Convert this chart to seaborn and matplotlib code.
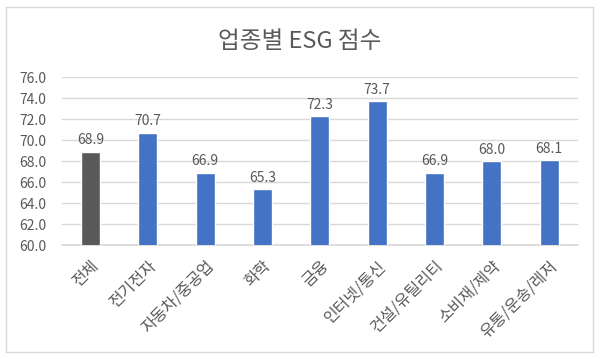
import matplotlib
matplotlib.use("Agg")
import matplotlib.pyplot as plt
import seaborn as sns
import pandas as pd
from matplotlib.patches import Rectangle

categories = ["전체", "전기전자", "자동차/중공업", "화학", "금융", "인터넷/통신", "건설/유틸리티", "소비재/제약", "유통/운송/레저"]
scores = [68.9, 70.7, 66.9, 65.3, 72.3, 73.7, 66.9, 68.0, 68.1]
yticks = [60, 62, 64, 66, 68, 70, 72, 74, 76]
title = "업종별 ESG 점수"

sns.set_theme(style="white")
plt.rcParams['font.family'] = ['Noto Sans CJK KR', 'DejaVu Sans']

df = pd.DataFrame({"cat": categories, "score": scores})
palette = ["#595959"] + ["#4472C4"] * (len(categories) - 1)

fig = plt.figure(figsize=(6, 3.59), dpi=100)
fig.patch.set_facecolor("white")
fig.add_artist(Rectangle((6/600, 7/359), 587/600, 345/359, transform=fig.transFigure,
                         fill=False, edgecolor="#D9D9D9", linewidth=1))
ax = fig.add_axes([0.103, 0.3175, 0.86, 0.468])
sns.barplot(data=df, x="cat", y="score", hue="cat", palette=palette, legend=False,
            width=0.33, saturation=1, ax=ax, zorder=3)
ax.set_ylim(60, 76)
ax.set_yticks(yticks)
ax.set_yticklabels([f"{v:.1f}" for v in yticks], color="#595959", fontsize=10)
ax.yaxis.grid(True, color="#D9D9D9", linewidth=1, zorder=0)
ax.set_axisbelow(True)
for s in ["top", "right", "left"]:
    ax.spines[s].set_visible(False)
ax.spines["bottom"].set_color("#D9D9D9")
ax.tick_params(axis="y", length=0, pad=11)
ax.tick_params(axis="x", length=0, pad=9)
ax.set_xticks(range(len(categories)))
ax.set_xticklabels(categories, rotation=45, ha="right", rotation_mode="anchor",
                   color="#595959", fontsize=11.5)
ax.set_xlabel("")
ax.set_ylabel("")
for i, v in enumerate(scores):
    ax.text(i, v + 0.4, f"{v:.1f}", ha="center", va="bottom", color="#595959", fontsize=10)
fig.text(0.5, 0.885, title, ha="center", va="center", color="#595959", fontsize=17)
fig.savefig("out.png", dpi=100)
